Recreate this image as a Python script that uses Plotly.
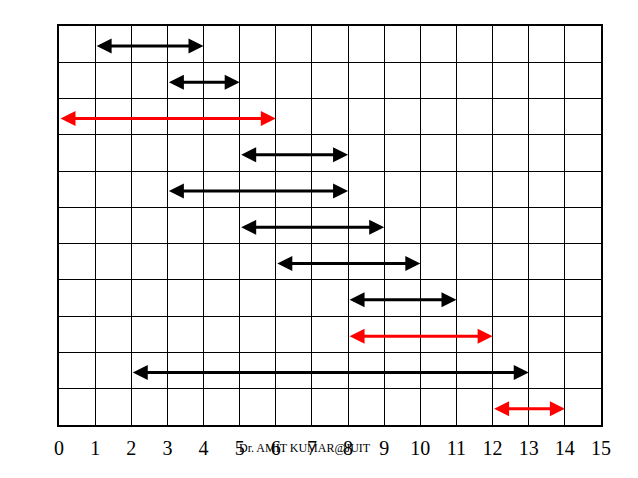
import plotly.graph_objects as go

starts = [1, 3, 0, 5, 3, 5, 6, 8, 8, 2, 12]
ends = [4, 5, 6, 8, 8, 9, 10, 11, 12, 13, 14]
colors = ["black", "black", "red", "black", "black", "black",
          "black", "black", "red", "black", "red"]
ticks = list(range(16))

serif = "Liberation Serif, Times New Roman, serif"
n = len(starts)
fig = go.Figure()
fig.add_trace(go.Scatter(x=[0, 15], y=[0, n], mode="markers",
                         marker=dict(opacity=0), hoverinfo="skip", showlegend=False))

for i, (s, e, c) in enumerate(zip(starts, ends, colors)):
    y = n - i - 0.55
    fig.add_annotation(x=e, y=y, ax=s, ay=y, xref="x", yref="y", axref="x", ayref="y",
                       showarrow=True, arrowhead=2, startarrowhead=2, arrowside="end+start",
                       arrowsize=1, startarrowsize=1, arrowwidth=3, arrowcolor=c, text="")

fig.add_annotation(x=6.8, y=0, xref="x", yref="paper", yanchor="middle", yshift=-23,
                   text="Dr. AMIT KUMAR@JUIT", showarrow=False,
                   font=dict(family=serif, size=12, color="black"))

fig.update_xaxes(range=[0, 15], tickvals=ticks, showgrid=True, gridcolor="black",
                 gridwidth=1, zeroline=False, showline=True, linecolor="black",
                 linewidth=2, mirror=True, ticks="", ticklabelstandoff=4, automargin=False,
                 tickfont=dict(family=serif, size=20, color="black"))
fig.update_yaxes(range=[0, n], dtick=1, showgrid=True, gridcolor="black", gridwidth=1,
                 zeroline=False, showline=True, linecolor="black", linewidth=2,
                 mirror=True, showticklabels=False, ticks="", automargin=False)
fig.update_layout(width=638, height=478, margin=dict(l=51, r=45, t=18, b=61),
                  plot_bgcolor="white", paper_bgcolor="white", showlegend=False)
fig.write_html("out.html")
